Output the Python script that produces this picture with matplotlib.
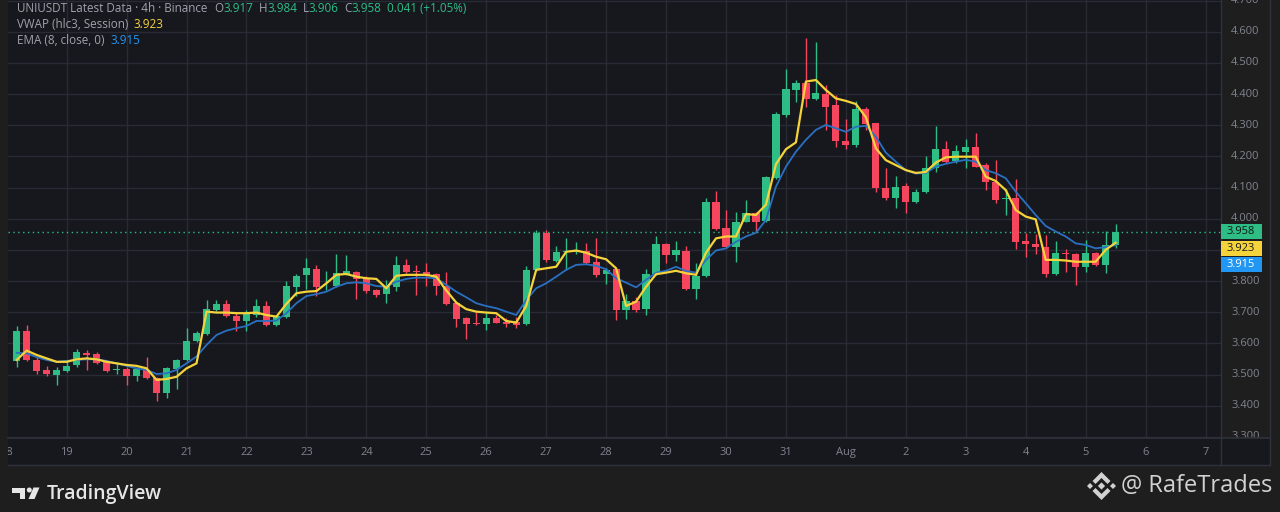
import matplotlib
matplotlib.use("Agg")
import matplotlib.pyplot as plt
import numpy as np
from matplotlib.patches import Rectangle, Polygon

plt.rcParams["font.family"] = ["Open Sans", "DejaVu Sans"]

# ---------------------------------------------------------------------------
# Data: UNIUSDT 4h candles (Jul 18 04:00 -> Aug 5 12:00)
# ---------------------------------------------------------------------------

opens = [
    3.543, 3.640, 3.548, 3.516, 3.498, 3.512, 3.530, 3.569, 3.567, 3.543,
    3.516, 3.519, 3.494, 3.516, 3.489, 3.442, 3.519, 3.546, 3.607, 3.629,
    3.707, 3.726, 3.688, 3.672, 3.690, 3.720, 3.658, 3.685, 3.781, 3.818,
    3.838, 3.786, 3.785, 3.822, 3.829, 3.810, 3.770, 3.757, 3.780, 3.852,
    3.833, 3.829, 3.823, 3.785, 3.729, 3.683, 3.664, 3.661, 3.682, 3.670,
    3.670, 3.661, 3.837, 3.955, 3.866, 3.892, 3.893, 3.897, 3.861, 3.822,
    3.838, 3.707, 3.735, 3.709, 3.824, 3.920, 3.885, 3.895, 3.774, 3.815,
    4.053, 3.970, 3.909, 3.991, 4.020, 3.994, 4.130, 4.333, 4.413, 4.436,
    4.383, 4.400, 4.365, 4.250, 4.235, 4.351, 4.306, 4.100, 4.066, 4.105,
    4.055, 4.085, 4.162, 4.223, 4.186, 4.213, 4.229, 4.172, 4.119, 4.062,
    4.065, 3.928, 3.919, 3.910, 3.822, 3.891, 3.887, 3.844, 3.891, 3.851,
    3.917,
]
highs = [
    3.655, 3.659, 3.556, 3.527, 3.524, 3.546, 3.581, 3.579, 3.572, 3.546,
    3.541, 3.524, 3.524, 3.555, 3.492, 3.524, 3.551, 3.648, 3.639, 3.740,
    3.740, 3.739, 3.696, 3.707, 3.741, 3.735, 3.691, 3.800, 3.822, 3.873,
    3.851, 3.831, 3.886, 3.883, 3.831, 3.815, 3.774, 3.803, 3.881, 3.872,
    3.852, 3.859, 3.826, 3.830, 3.731, 3.686, 3.702, 3.702, 3.690, 3.683,
    3.686, 3.848, 3.965, 3.964, 3.914, 3.939, 3.924, 3.923, 3.939, 3.843,
    3.840, 3.760, 3.750, 3.839, 3.946, 3.922, 3.930, 3.911, 3.857, 4.067,
    4.088, 4.028, 4.023, 4.060, 4.023, 4.138, 4.343, 4.479, 4.445, 4.580,
    4.568, 4.429, 4.397, 4.319, 4.379, 4.359, 4.308, 4.162, 4.137, 4.114,
    4.094, 4.201, 4.297, 4.248, 4.237, 4.255, 4.276, 4.180, 4.190, 4.094,
    4.126, 3.953, 3.951, 3.948, 3.930, 3.902, 3.891, 3.932, 3.894, 3.961,
    3.984,
]
lows = [
    3.524, 3.543, 3.503, 3.495, 3.466, 3.508, 3.525, 3.516, 3.533, 3.509,
    3.501, 3.466, 3.481, 3.486, 3.415, 3.425, 3.455, 3.544, 3.605, 3.627,
    3.705, 3.685, 3.641, 3.641, 3.684, 3.655, 3.655, 3.683, 3.752, 3.776,
    3.752, 3.770, 3.782, 3.818, 3.741, 3.762, 3.749, 3.730, 3.769, 3.825,
    3.755, 3.785, 3.755, 3.723, 3.654, 3.613, 3.659, 3.643, 3.664, 3.654,
    3.648, 3.659, 3.833, 3.862, 3.862, 3.837, 3.888, 3.856, 3.812, 3.791,
    3.675, 3.679, 3.701, 3.690, 3.820, 3.859, 3.865, 3.772, 3.741, 3.813,
    3.965, 3.905, 3.860, 3.988, 3.959, 3.989, 4.127, 4.327, 4.375, 4.360,
    4.381, 4.285, 4.231, 4.223, 4.231, 4.285, 4.087, 4.060, 4.033, 4.017,
    4.050, 4.081, 4.151, 4.180, 4.178, 4.162, 4.165, 4.092, 4.049, 4.012,
    3.902, 3.878, 3.887, 3.812, 3.819, 3.830, 3.786, 3.830, 3.848, 3.827,
    3.906,
]
closes = [
    3.640, 3.546, 3.512, 3.501, 3.516, 3.529, 3.574, 3.564, 3.538, 3.512,
    3.518, 3.494, 3.519, 3.489, 3.442, 3.521, 3.548, 3.607, 3.634, 3.709,
    3.726, 3.688, 3.672, 3.696, 3.720, 3.658, 3.687, 3.784, 3.817, 3.841,
    3.780, 3.789, 3.827, 3.833, 3.806, 3.767, 3.756, 3.784, 3.852, 3.829,
    3.829, 3.820, 3.783, 3.726, 3.677, 3.661, 3.661, 3.682, 3.667, 3.661,
    3.660, 3.837, 3.955, 3.869, 3.893, 3.897, 3.899, 3.858, 3.821, 3.835,
    3.707, 3.735, 3.706, 3.824, 3.920, 3.885, 3.899, 3.774, 3.817, 4.053,
    3.967, 3.909, 3.991, 4.020, 3.991, 4.135, 4.336, 4.415, 4.436, 4.383,
    4.402, 4.360, 4.249, 4.236, 4.351, 4.304, 4.100, 4.066, 4.103, 4.055,
    4.087, 4.164, 4.223, 4.183, 4.218, 4.229, 4.167, 4.119, 4.060, 4.065,
    3.926, 3.918, 3.908, 3.822, 3.891, 3.887, 3.844, 3.891, 3.851, 3.917,
    3.958,
]
vwap = [
    3.547, 3.577, 3.563, 3.552, 3.541, 3.541, 3.549, 3.552, 3.549, 3.541,
    3.536, 3.531, 3.528, 3.520, 3.483, 3.486, 3.493, 3.520, 3.536, 3.702,
    3.699, 3.699, 3.697, 3.697, 3.699, 3.691, 3.686, 3.727, 3.761, 3.766,
    3.768, 3.793, 3.820, 3.823, 3.814, 3.809, 3.807, 3.777, 3.817, 3.820,
    3.820, 3.820, 3.814, 3.770, 3.731, 3.710, 3.702, 3.699, 3.697, 3.672,
    3.667, 3.720, 3.836, 3.841, 3.846, 3.894, 3.898, 3.891, 3.878, 3.870,
    3.841, 3.720, 3.734, 3.782, 3.822, 3.827, 3.833, 3.825, 3.820, 3.891,
    3.937, 3.943, 3.943, 4.015, 4.012, 4.045, 4.175, 4.223, 4.245, 4.440,
    4.445, 4.413, 4.386, 4.378, 4.368, 4.326, 4.226, 4.188, 4.172, 4.156,
    4.147, 4.150, 4.180, 4.197, 4.199, 4.199, 4.199, 4.135, 4.121, 4.092,
    4.028, 4.007, 3.998, 3.868, 3.868, 3.866, 3.862, 3.862, 3.862, 3.900,
    3.923,
]
ema8 = [
    3.570, 3.568, 3.556, 3.547, 3.541, 3.544, 3.547, 3.549, 3.549, 3.544,
    3.536, 3.528, 3.520, 3.515, 3.502, 3.504, 3.515, 3.536, 3.558, 3.595,
    3.627, 3.641, 3.649, 3.656, 3.672, 3.672, 3.673, 3.697, 3.729, 3.752,
    3.758, 3.766, 3.782, 3.793, 3.796, 3.793, 3.784, 3.782, 3.798, 3.807,
    3.811, 3.811, 3.809, 3.788, 3.766, 3.748, 3.729, 3.720, 3.713, 3.702,
    3.691, 3.739, 3.777, 3.793, 3.814, 3.836, 3.852, 3.854, 3.849, 3.838,
    3.809, 3.795, 3.780, 3.804, 3.827, 3.833, 3.846, 3.832, 3.827, 3.868,
    3.898, 3.905, 3.926, 3.943, 3.955, 3.996, 4.103, 4.167, 4.215, 4.253,
    4.285, 4.301, 4.290, 4.279, 4.295, 4.298, 4.263, 4.212, 4.183, 4.156,
    4.145, 4.147, 4.167, 4.176, 4.183, 4.189, 4.183, 4.156, 4.146, 4.130,
    4.087, 4.050, 4.012, 3.977, 3.959, 3.943, 3.921, 3.916, 3.905, 3.909,
    3.915,
]

day_labels = ["18", "19", "20", "21", "22", "23", "24", "25", "26", "27",
              "28", "29", "30", "31", "Aug", "2", "3", "4", "5", "6", "7"]
price_levels = [3.3, 3.4, 3.5, 3.6, 3.7, 3.8, 3.9, 4.0, 4.1, 4.2, 4.3, 4.4, 4.5, 4.6, 4.7]

# ---------------------------------------------------------------------------
# Style
# ---------------------------------------------------------------------------

W, H = 1280, 512
OUTER_BG = "#1e1e1e"
CHART_BG = "#17181e"
GRID = "#282b33"
BORDER = "#2f323b"
UP = "#2ebd85"
DOWN = "#f6465d"
VWAP_C = "#f5d33b"
EMA_C = "#2a70c2"
EMA_LABEL = "#2196f3"
AXIS_TXT = "#80848e"
LEGEND_TXT = "#9fa3ad"

XMIN, XMAX = -0.87, 120.55
YMIN, YMAX = 3.2966, 4.7017


def box(x0, y0, x1, y1):
    """pixel box (origin top-left) -> figure fraction rect"""
    return [x0 / W, 1 - y1 / H, (x1 - x0) / W, (y1 - y0) / H]


def price_to_px(p):
    return (YMAX - p) / (YMAX - YMIN) * 438


fig = plt.figure(figsize=(W / 100, H / 100), dpi=100, facecolor=OUTER_BG)

# ---------------------------------------------------------------------------
# Main price pane
# ---------------------------------------------------------------------------

ax = fig.add_axes(box(8, 0, 1221, 438), facecolor=CHART_BG)
n = len(closes)
x = np.arange(n)
o = np.array(opens)
c = np.array(closes)
colors = [UP if cc >= oo else DOWN for oo, cc in zip(o, c)]

ax.vlines(x, lows, highs, colors=colors, linewidth=1.0, zorder=2)
body_bottom = np.minimum(o, c)
body_height = np.maximum(np.abs(c - o), 0.003)
ax.bar(x, body_height, bottom=body_bottom, width=0.72, color=colors,
       edgecolor="none", zorder=3)

ax.plot(x, ema8, color=EMA_C, linewidth=1.3, zorder=4)
ax.plot(x, vwap, color=VWAP_C, linewidth=1.6, zorder=5)

ax.axhline(closes[-1], color=UP, linewidth=1.0, linestyle=(0, (1, 2.5)), zorder=1)

day_pos = [-1 + 6 * k for k in range(len(day_labels))]
ax.set_xticks(day_pos)
ax.set_yticks(price_levels)
ax.grid(True, color=GRID, linewidth=1.0)
ax.set_axisbelow(True)
ax.tick_params(length=0, labelbottom=False, labelleft=False)
for s in ax.spines.values():
    s.set_visible(False)
ax.set_xlim(XMIN, XMAX)
ax.set_ylim(YMIN, YMAX)

# ---------------------------------------------------------------------------
# Price scale (labels hidden where the last-value tags sit)
# ---------------------------------------------------------------------------

tag_y = price_to_px(closes[-1])
TAG_STEP = 16.3
tag_top, tag_bot = tag_y - 8, tag_y + 2 * TAG_STEP + 8

pax = fig.add_axes(box(1221, 0, 1270, 438), facecolor=CHART_BG)
pax.set_xlim(0, 1)
pax.set_ylim(YMIN, YMAX)
pax.axis("off")
for v in price_levels:
    if tag_top < price_to_px(v) < tag_bot:
        continue
    pax.text(0.5, v, f"{v:.3f}", color=AXIS_TXT, fontsize=8, ha="center",
             va="center", clip_on=True)

# ---------------------------------------------------------------------------
# Time scale
# ---------------------------------------------------------------------------

tax = fig.add_axes(box(8, 438, 1221, 465), facecolor=CHART_BG)
tax.set_xlim(XMIN, XMAX)
tax.set_ylim(0, 1)
tax.set_xticks([])
tax.set_yticks([])
for s in tax.spines.values():
    s.set_visible(False)
for pos, lab in zip(day_pos, day_labels):
    tax.text(pos, 0.45, lab, color=AXIS_TXT, fontsize=8, ha="center",
             va="center", clip_on=True)

corner = fig.add_axes(box(1221, 438, 1270, 465), facecolor=CHART_BG)
corner.set_xticks([])
corner.set_yticks([])
for s in corner.spines.values():
    s.set_visible(False)

# ---------------------------------------------------------------------------
# Overlay in pixel coordinates: borders, legend, value tags, footer
# ---------------------------------------------------------------------------

ov = fig.add_axes([0, 0, 1, 1], facecolor="none")
ov.set_xlim(0, W)
ov.set_ylim(H, 0)
ov.axis("off")

ov.plot([1221, 1221], [0, 465], color=BORDER, linewidth=1)
ov.plot([1270, 1270], [0, 465], color=BORDER, linewidth=1)
ov.plot([8, 1270], [438, 438], color=BORDER, linewidth=1.2)
ov.plot([8, 1270], [465, 465], color=BORDER, linewidth=1)

# last value tags (stacked so they do not overlap)
tags = [(closes[-1], UP, "#0e1a14"), (vwap[-1], VWAP_C, "#1a1a1a"),
        (ema8[-1], EMA_LABEL, "#ffffff")]
for k, (val, bg, fg) in enumerate(tags):
    yc = tag_y + TAG_STEP * k
    ov.add_patch(Rectangle((1221, yc - 7.6), 40.5, 15.2, facecolor=bg,
                           edgecolor="none", zorder=6))
    ov.text(1241, yc, f"{val:.3f}", color=fg, fontsize=8, ha="center",
            va="center", zorder=7)


def legend_line(y, parts):
    prev = ov.text(17, y, parts[0][0], color=parts[0][1], fontsize=8.4,
                   ha="left", va="center")
    for s, col, gap in parts[1:]:
        prev = ov.annotate(s, xy=(1, 0), xycoords=prev, xytext=(gap, 0),
                           textcoords="offset points", color=col, fontsize=8.4,
                           ha="left", va="bottom", annotation_clip=False)


chg = closes[-1] - closes[-2]
chg_pct = chg / closes[-2] * 100
legend_line(8, [
    ("UNIUSDT Latest Data · 4h · Binance", LEGEND_TXT),
    ("O", LEGEND_TXT, 5), (f"{opens[-1]:.3f}", UP, 0),
    ("H", LEGEND_TXT, 4), (f"{highs[-1]:.3f}", UP, 0),
    ("L", LEGEND_TXT, 4), (f"{lows[-1]:.3f}", UP, 0),
    ("C", LEGEND_TXT, 4), (f"{closes[-1]:.3f}", UP, 0),
    (f"{chg:.3f} ({chg_pct:+.2f}%)", UP, 4),
])
legend_line(24, [
    ("VWAP (hlc3, Session)", LEGEND_TXT),
    (f"{vwap[-1]:.3f}", VWAP_C, 4),
])
legend_line(41, [
    ("EMA (8, close, 0)", LEGEND_TXT),
    (f"{ema8[-1]:.3f}", EMA_LABEL, 4),
])

# footer: TradingView logo + wordmark
LOGO = "#e6e6e6"
ov.add_patch(Polygon([(12, 487.5), (25, 487.5), (25, 499), (19.5, 499),
                      (19.5, 492.5), (12, 492.5)],
                     closed=True, facecolor=LOGO, edgecolor="none"))
ov.add_patch(plt.Circle((29.3, 490), 2.5, facecolor=LOGO, edgecolor="none"))
ov.add_patch(Polygon([(33.5, 487.5), (39.5, 487.5), (34.5, 499), (28.5, 499)],
                     closed=True, facecolor=LOGO, edgecolor="none"))
ov.text(47, 493.5, "TradingView", color=LOGO, fontsize=14, fontweight="semibold",
        ha="left", va="center")

# footer: watermark (diamond logo + handle)
WM = "#d2d2d2"
cx, cy = 1101.5, 486
shapes = [
    [(cx, cy - 14), (cx + 9, cy - 5), (cx + 6, cy - 2), (cx, cy - 8), (cx - 6, cy - 2), (cx - 9, cy - 5)],
    [(cx, cy + 14), (cx + 9, cy + 5), (cx + 6, cy + 2), (cx, cy + 8), (cx - 6, cy + 2), (cx - 9, cy + 5)],
    [(cx, cy - 3.6), (cx + 3.6, cy), (cx, cy + 3.6), (cx - 3.6, cy)],
    [(cx - 11.5, cy - 3), (cx - 8.5, cy), (cx - 11.5, cy + 3), (cx - 14.5, cy)],
    [(cx + 11.5, cy - 3), (cx + 14.5, cy), (cx + 11.5, cy + 3), (cx + 8.5, cy)],
]
for pts in shapes:
    ov.add_patch(Polygon(pts, closed=True, facecolor=WM, edgecolor="none"))
ov.text(1121, 486, "@ RafeTrades", color=WM, fontsize=17, ha="left", va="center")

fig.savefig("out.png", dpi=100, facecolor=OUTER_BG)
